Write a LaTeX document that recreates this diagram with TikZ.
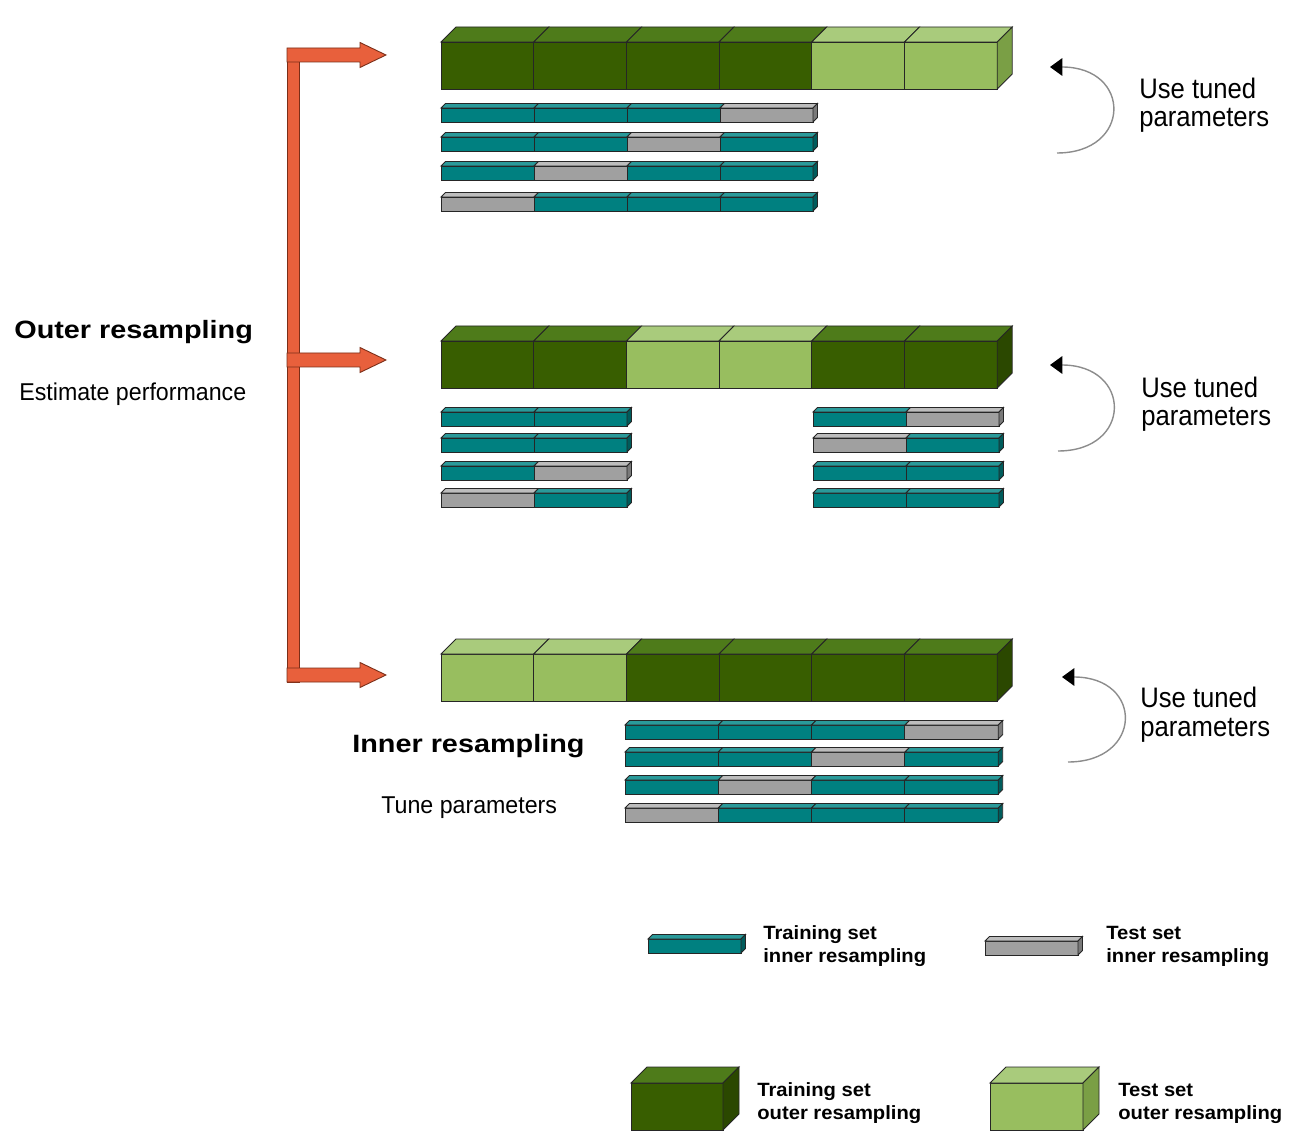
\documentclass[tikz,border=0pt]{standalone}
\usepackage{fontspec}
\setmainfont{Liberation Sans}
\usepackage{graphicx}
\usetikzlibrary{arrows.meta}
\definecolor{dkF}{HTML}{385E00}
\definecolor{dkT}{HTML}{4E7B1A}
\definecolor{dkS}{HTML}{2B4800}
\definecolor{ltF}{HTML}{98BE5F}
\definecolor{ltT}{HTML}{A9CB7C}
\definecolor{ltS}{HTML}{7A9F45}
\definecolor{tlF}{HTML}{008080}
\definecolor{tlT}{HTML}{2A9A9A}
\definecolor{tlS}{HTML}{005C5C}
\definecolor{gyF}{HTML}{A0A0A0}
\definecolor{gyT}{HTML}{BDBDBD}
\definecolor{gyS}{HTML}{7A7A7A}
\definecolor{orangeF}{HTML}{E8603C}
\definecolor{orangeD}{HTML}{7A2E18}
\definecolor{curvegray}{HTML}{8C8C8C}
\newcommand{\vs}[2]{\scalebox{1}[#1]{#2}}
\newcommand{\cellF}[6]{%
  \filldraw[fill=#6F,cell] (#1,#2) rectangle ++(#3,#4);
  \filldraw[fill=#6T,cell] (#1,#2) -- ++(#5,-#5) -- ++(#3,0) -- ++(-#5,#5) -- cycle;
}
\newcommand{\cellS}[6]{%
  \filldraw[fill=#6S,cell] ({#1+#3},#2) -- ++(#5,-#5) -- ++(0,#4) -- ++(-#5,#5) -- cycle;
}
\newcommand{\brow}[6]{%
  \foreach \c [count=\i from 0] in {#6}{%
    \pgfmathsetmacro\cx{#1+\i*#3}%
    \edef\tmp{\noexpand\cellF{\cx}{#2}{#3}{#4}{#5}{\c}}\tmp
    \xdef\lastcx{\cx}\xdef\lastc{\c}%
  }%
  \edef\tmp{\noexpand\cellS{\lastcx}{#2}{#3}{#4}{#5}{\lastc}}\tmp
}
\newcommand{\oarrow}[1]{%
  \filldraw[oshape] (287,{#1-7}) -- (360,{#1-7}) -- (360,{#1-12.5}) -- (386,#1)
    -- (360,{#1+12.5}) -- (360,{#1+7}) -- (287,{#1+7}) -- cycle;
}
\begin{document}
\begin{tikzpicture}[x=0.02cm,y=-0.02cm,
  cell/.style={draw=black!85,line width=0.5pt,line join=miter},
  oshape/.style={fill=orangeF,draw=orangeD,line width=0.5pt},
  loop/.style={draw=curvegray,line width=0.8pt,-{Triangle[length=7pt,width=10pt,fill=black,color=black]}},
  head/.style={anchor=base west,inner sep=0pt,font=\bfseries\fontsize{16.4}{19}\selectfont},
  sub/.style={anchor=base west,inner sep=0pt,font=\fontsize{13.2}{15}\selectfont},
  usetxt/.style={anchor=base west,inner sep=0pt,align=left,font=\fontsize{14.6}{16.2}\selectfont},
  legtxt/.style={anchor=base west,inner sep=0pt,align=left,font=\bfseries\fontsize{11.5}{13}\selectfont}]
\useasboundingbox (0,0) rectangle (1296,1142);

% orange bracket with arrows
\filldraw[oshape] (287,48) rectangle (299,682);
\oarrow{55}
\oarrow{360}
\oarrow{675}

% big outer rows
\brow{441}{42}{92.7}{47}{15}{dk,dk,dk,dk,lt,lt}
\brow{441}{341}{92.7}{47}{15}{dk,dk,lt,lt,dk,dk}
\brow{441}{654}{92.7}{47}{15}{lt,lt,dk,dk,dk,dk}

% inner bars, top group
\brow{441}{108}{93}{14}{4.5}{tl,tl,tl,gy}
\brow{441}{137}{93}{14}{4.5}{tl,tl,gy,tl}
\brow{441}{166}{93}{14}{4.5}{tl,gy,tl,tl}
\brow{441}{197}{93}{14}{4.5}{gy,tl,tl,tl}

% inner bars, middle group
\brow{441}{412}{93}{14}{4.5}{tl,tl}
\brow{441}{438}{93}{14}{4.5}{tl,tl}
\brow{441}{466}{93}{14}{4.5}{tl,gy}
\brow{441}{493}{93}{14}{4.5}{gy,tl}
\brow{813}{412}{93}{14}{4.5}{tl,gy}
\brow{813}{438}{93}{14}{4.5}{gy,tl}
\brow{813}{466}{93}{14}{4.5}{tl,tl}
\brow{813}{493}{93}{14}{4.5}{tl,tl}

% inner bars, bottom group
\brow{625}{725}{93.3}{14}{4.5}{tl,tl,tl,gy}
\brow{625}{752}{93.3}{14}{4.5}{tl,tl,gy,tl}
\brow{625}{780}{93.3}{14}{4.5}{tl,gy,tl,tl}
\brow{625}{808}{93.3}{14}{4.5}{gy,tl,tl,tl}

% curved arrows
\coordinate (l1s) at (1057,153); \coordinate (l1e) at (1050,67);
\coordinate (l2s) at (1058,451); \coordinate (l2e) at (1050,365);
\coordinate (l3s) at (1068,762); \coordinate (l3e) at (1062,677);
\draw[loop] (l1s) .. controls +(75,0) and +(82,0) .. (l1e);
\draw[loop] (l2s) .. controls +(75,0) and +(82,0) .. (l2e);
\draw[loop] (l3s) .. controls +(75,0) and +(82,0) .. (l3e);

% texts
\node[head] (outer) at (14,339) {\vs{0.87}{Outer resampling}};
\node[sub] (estim) at (19,400) {\vs{1.05}{Estimate performance}};
\node[head] (inner) at (352,752) {\vs{0.87}{Inner resampling}};
\node[sub] (tune) at (381,813) {\vs{1.05}{Tune parameters}};
\node[usetxt] (use1) at (1139,127) {\vs{1.1}{Use tuned}\\\vs{1.1}{parameters}};
\node[usetxt] (use2) at (1141,426) {\vs{1.1}{Use tuned}\\\vs{1.1}{parameters}};
\node[usetxt] (use3) at (1140,736) {\vs{1.1}{Use tuned}\\\vs{1.1}{parameters}};

% legend
\cellF{648}{939}{93}{14}{4.5}{tl}\cellS{648}{939}{93}{14}{4.5}{tl}
\cellF{985}{941}{93}{14}{4.5}{gy}\cellS{985}{941}{93}{14}{4.5}{gy}
\cellF{631}{1083}{92}{47}{16}{dk}\cellS{631}{1083}{92}{47}{16}{dk}
\cellF{990}{1083}{93}{47}{16}{lt}\cellS{990}{1083}{93}{47}{16}{lt}
\node[legtxt] (leg1) at (763,962) {\vs{0.95}{Training set}\\\vs{0.95}{inner resampling}};
\node[legtxt] (leg2) at (1106,962) {\vs{0.95}{Test set}\\\vs{0.95}{inner resampling}};
\node[legtxt] (leg3) at (757,1119) {\vs{0.95}{Training set}\\\vs{0.95}{outer resampling}};
\node[legtxt] (leg4) at (1118,1119) {\vs{0.95}{Test set}\\\vs{0.95}{outer resampling}};
\end{tikzpicture}
\end{document}
